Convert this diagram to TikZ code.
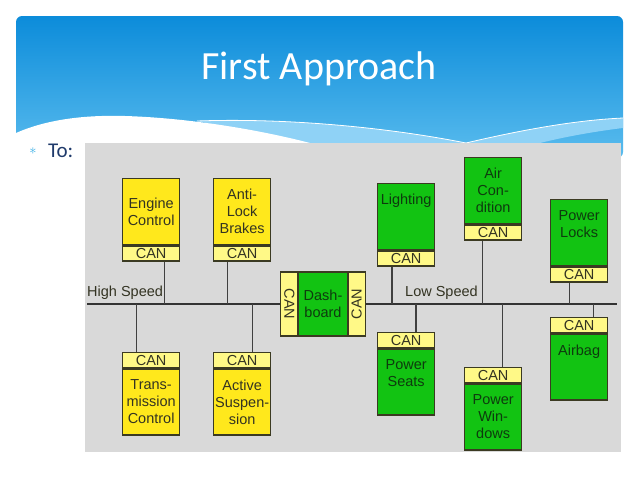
\documentclass[tikz,border=0pt]{standalone}
\usepackage{fontspec}
\setmainfont{Liberation Sans}
\newfontfamily\slidefont{Carlito}
\usetikzlibrary{positioning}

\definecolor{hdtop}{HTML}{0C8CDA}
\definecolor{hdbot}{HTML}{5ABCEE}
\definecolor{hdband}{HTML}{8FD2F6}
\definecolor{panel}{HTML}{D9D9D9}
\definecolor{ecuyel}{HTML}{FFE81C}
\definecolor{canyel}{HTML}{FFF987}
\definecolor{ecugrn}{HTML}{12C312}
\definecolor{boxedge}{HTML}{3B3A22}
\definecolor{grntext}{HTML}{0E3B0E}
\definecolor{yeltext}{HTML}{333322}
\definecolor{textblue}{HTML}{1F3A6B}
\definecolor{bullblue}{HTML}{3AAFE6}

\newcommand{\ecufont}{\fontsize{14.5}{17}\selectfont}

\tikzset{
  ecu/.style={draw=boxedge, line width=1.3pt, minimum width=57pt, minimum height=66pt, inner sep=0pt, align=center, font=\ecufont},
  yel/.style={ecu, fill=ecuyel, text=yeltext},
  grn/.style={ecu, fill=ecugrn, text=grntext},
  toptext/.style={label={[font=\ecufont, text=grntext, align=center, inner sep=0pt, anchor=north, label distance=-11pt]north:#1}},
  canbox/.style={draw=boxedge, line width=1.3pt, fill=canyel, minimum width=57pt, minimum height=15pt, inner sep=0pt, font=\ecufont, text=yeltext},
  bus/.style={line width=2.2pt, draw=black!80},
  stub/.style={line width=1.4pt, draw=black!75},
}

\begin{document}
\begin{tikzpicture}[x=1pt, y=-1pt]
    \useasboundingbox (0,0) rectangle (638,479);
    \fill[white] (0,0) rectangle (638,479);

    % Header with the waves
    \shade[top color=hdtop, bottom color=hdbot, rounded corners=6pt] (16,16) rectangle (623,158);
    \fill[hdband] (197,121) .. controls (280,118) and (380,126) .. (466,143) -- (300,143) -- cycle;
    \fill[hdband] (466,143) .. controls (530,128) and (580,120) .. (623,118) -- (623,128) .. controls (590,132) and (560,138) .. (540,143) -- cycle;
    \fill[white] (16,133) .. controls (50,118) and (90,115) .. (125,116) .. controls (190,118) and (260,130) .. (310,143) -- (310,160) -- (16,160) -- cycle;
    \draw[white, line width=0.8pt] (197,121) .. controls (280,118) and (380,126) .. (466,143) .. controls (530,128) and (580,120) .. (623,118);
    \node[font=\slidefont\fontsize{40}{46}\selectfont, text=white, anchor=base] (title) at (319,79) {First Approach};

    % Bullet
    \node[text=bullblue, font=\fontsize{14}{14}\selectfont] (bullet) at (33,151) {$\ast$};
    \node[font=\slidefont\fontsize{21}{24}\selectfont, text=textblue, anchor=base west, inner sep=0pt] (to) at (48,157) {To:};

    % Diagram panel
    \fill[panel] (85,143) rectangle (621,452);

    % High speed units
    \node[yel, anchor=north west] (eng) at (122,178) {Engine\\Control};
    \node[canbox, below=0pt of eng] (engcan) {CAN};
    \node[yel, anchor=north west] (abs) at (213,178) {Anti-\\Lock\\Brakes};
    \node[canbox, below=0pt of abs] (abscan) {CAN};
    \node[canbox, anchor=north west] (transcan) at (122,352) {CAN};
    \node[yel, below=0pt of transcan] (trans) {Trans-\\mission\\Control};
    \node[canbox, anchor=north west] (suspcan) at (213,352) {CAN};
    \node[yel, below=0pt of suspcan] (susp) {Active\\Suspen-\\sion};

    % Low speed units
    \node[grn, toptext=Lighting, anchor=north west] (light) at (377,183) {};
    \node[canbox, below=0pt of light] (lightcan) {CAN};
    \node[grn, anchor=north west] (air) at (464,157) {Air\\Con-\\dition};
    \node[canbox, below=0pt of air] (aircan) {CAN};
    \node[grn, toptext={Power\\Locks}, anchor=north west] (locks) at (550,199) {};
    \node[canbox, below=0pt of locks] (lockscan) {CAN};
    \node[canbox, anchor=north west] (seatscan) at (377,332) {CAN};
    \node[grn, toptext={Power\\Seats}, below=0pt of seatscan] (seats) {};
    \node[canbox, anchor=north west] (wincan) at (464,367) {CAN};
    \node[grn, below=0pt of wincan] (win) {Power\\Win-\\dows};
    \node[canbox, anchor=north west] (bagcan) at (550,317) {CAN};
    \node[grn, toptext=Airbag, below=0pt of bagcan] (bag) {};

    % Dashboard gateway
    \node[grn, minimum width=50pt, minimum height=64pt] (dash) at (323,304) {Dash-\\board};
    \node[canbox, rotate=-90, minimum width=64pt, minimum height=17.5pt] (dashl) at (289.3,304) {CAN};
    \node[canbox, rotate=90, minimum width=64pt, minimum height=17.5pt] (dashr) at (356.7,304) {CAN};

    % Buses
    \coordinate (hsL) at (87,304);
    \coordinate (lsR) at (617,304);
    \draw[bus] (hsL) -- (dashl);
    \draw[bus] (dashr) -- (lsR);
    \foreach \n/\dx in {engcan/13.5, abscan/-14.5, lightcan/-14, aircan/-10.5, lockscan/-9.5}
        \draw[stub] ([xshift=\dx pt]\n.south) -- ([xshift=\dx pt]\n.south |- hsL);
    \foreach \n/\dx in {transcan/-14.5, suspcan/10.5, seatscan/10, wincan/9.5, bagcan/14.5}
        \draw[stub] ([xshift=\dx pt]\n.north) -- ([xshift=\dx pt]\n.north |- hsL);

    \node[anchor=west, inner sep=0pt, font=\ecufont, text=yeltext] (hslabel) at (87,292.5) {High Speed};
    \node[anchor=west, inner sep=0pt, font=\ecufont, text=yeltext] (lslabel) at (405,292.5) {Low Speed};
\end{tikzpicture}
\end{document}
